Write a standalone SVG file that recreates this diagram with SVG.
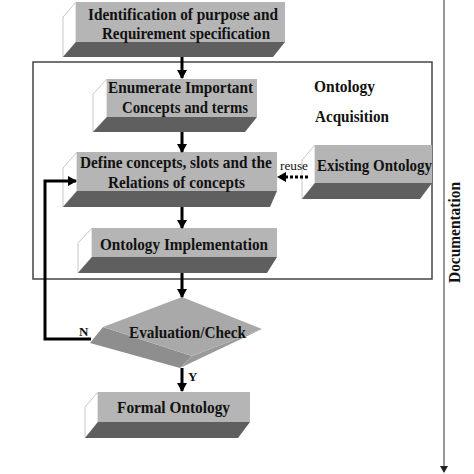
<svg xmlns="http://www.w3.org/2000/svg" width="474" height="474" viewBox="0 0 474 474">
<defs>
<style>
.front{fill:#b5b5b5;}
.slab{fill:#5f5f5f;}
.side{fill:#ffffff;stroke:#c8c8c8;stroke-width:1;}
.t{font-family:"Liberation Serif","Times New Roman",serif;font-weight:bold;fill:#111;font-size:16px;}
.l{font-size:17.5px;}
.s{font-size:13px;}
.conn{stroke:#000;stroke-width:3;fill:none;}
</style>
<marker id="ah" markerWidth="10" markerHeight="10" refX="8" refY="5" orient="auto" markerUnits="userSpaceOnUse">
<path d="M0,0 L9,5 L0,10 Z" fill="#000"/>
</marker>
<marker id="ahs" markerWidth="8" markerHeight="8" refX="6" refY="4" orient="auto" markerUnits="userSpaceOnUse">
<path d="M0,0 L7,4 L0,8 Z" fill="#222"/>
</marker>
</defs>
<rect width="474" height="474" fill="#fff"/>

<g id="acquisition-frame">
<rect x="33" y="62" width="399" height="217" fill="none" stroke="#444" stroke-width="1.5"/>
<text class="t" x="314" y="92" textLength="61" lengthAdjust="spacingAndGlyphs">Ontology</text>
<text class="t" x="315" y="122" textLength="74" lengthAdjust="spacingAndGlyphs">Acquisition</text>
</g>

<g id="n-identification">
<polygon class="side" points="76,2 63,17 63,57 76,42"/>
<polygon class="slab" points="76,42 285,42 273,57 63,57"/>
<rect class="front" x="76" y="2" width="209" height="40"/>
<text class="t l" x="88" y="20" textLength="190" lengthAdjust="spacingAndGlyphs">Identification of purpose and</text>
<text class="t l" x="102" y="39" textLength="168" lengthAdjust="spacingAndGlyphs">Requirement specification</text>
</g>

<g id="n-enumerate">
<polygon class="side" points="107,79 93,94 93,132 107,117"/>
<polygon class="slab" points="107,117 257,117 245,132 93,132"/>
<rect class="front" x="107" y="79" width="150" height="38"/>
<text class="t l" x="108" y="93" textLength="145" lengthAdjust="spacingAndGlyphs">Enumerate Important</text>
<text class="t l" x="122" y="113" textLength="126" lengthAdjust="spacingAndGlyphs">Concepts and terms</text>
</g>

<g id="n-define">
<polygon class="side" points="77,152 63,168 63,207 77,191"/>
<polygon class="slab" points="77,191 277,191 270,207 63,207"/>
<rect class="front" x="77" y="152" width="200" height="39"/>
<text class="t l" transform="translate(80,168) scale(0.875,1)" x="0" y="0">Define concepts, slots and the</text>
<text class="t l" x="108" y="188" textLength="137" lengthAdjust="spacingAndGlyphs">Relations of concepts</text>
</g>

<g id="n-existing">
<polygon class="side" points="315,145 302,160 302,199 315,183"/>
<polygon class="slab" points="315,183 432,183 420,199 302,199"/>
<rect class="front" x="315" y="145" width="117" height="38"/>
<text class="t" x="317" y="171" textLength="115" lengthAdjust="spacingAndGlyphs">Existing Ontology</text>
</g>

<g id="n-implementation">
<polygon class="side" points="92,228 78,243 78,273 92,257"/>
<polygon class="slab" points="92,257 277,257 267,273 78,273"/>
<rect class="front" x="92" y="228" width="185" height="29"/>
<text class="t" x="100" y="250" textLength="168" lengthAdjust="spacingAndGlyphs">Ontology Implementation</text>
</g>

<g id="n-evaluation">
<polygon points="103,327 192,356 180,368 90,343" fill="#8e8e8e"/>
<polygon points="262,329 192,356 180,368" fill="#9a9a9a"/>
<polygon points="182,297 262,329 192,356 103,327" fill="#a9a9a9"/>
<text class="t" x="129" y="338" textLength="117" lengthAdjust="spacingAndGlyphs">Evaluation/Check</text>
</g>

<g id="n-formal">
<polygon class="side" points="98,392 85,407 85,438 98,422"/>
<polygon class="slab" points="98,422 250,422 238,438 85,438"/>
<rect class="front" x="98" y="392" width="152" height="30"/>
<text class="t" x="117" y="413" textLength="113" lengthAdjust="spacingAndGlyphs">Formal Ontology</text>
</g>

<g id="documentation">
<line x1="444" y1="0" x2="444" y2="472" stroke="#777" stroke-width="1.5" marker-end="url(#ahs)"/>
<text class="t" transform="translate(460,283) rotate(-90)" x="0" y="0" textLength="101" lengthAdjust="spacingAndGlyphs">Documentation</text>
</g>

<g id="connectors">
<line class="conn" x1="182" y1="57" x2="182" y2="78" marker-end="url(#ah)"/>
<line class="conn" x1="182" y1="132" x2="182" y2="152" marker-end="url(#ah)"/>
<line class="conn" x1="182" y1="207" x2="182" y2="228" marker-end="url(#ah)"/>
<line class="conn" x1="182" y1="273" x2="182" y2="297" marker-end="url(#ah)"/>
<line class="conn" x1="182" y1="368" x2="182" y2="391" marker-end="url(#ah)"/>
<polyline class="conn" points="91,339 45,339 45,181 76,181" marker-end="url(#ah)"/>
<line class="conn" x1="308" y1="177" x2="278" y2="177" stroke-dasharray="3,2" marker-end="url(#ah)"/>
<text class="t s" x="280" y="170" textLength="28" lengthAdjust="spacingAndGlyphs" style="font-weight:normal">reuse</text>
<text class="t s" x="79" y="336">N</text>
<text class="t s" x="188" y="381">Y</text>
</g>
</svg>
